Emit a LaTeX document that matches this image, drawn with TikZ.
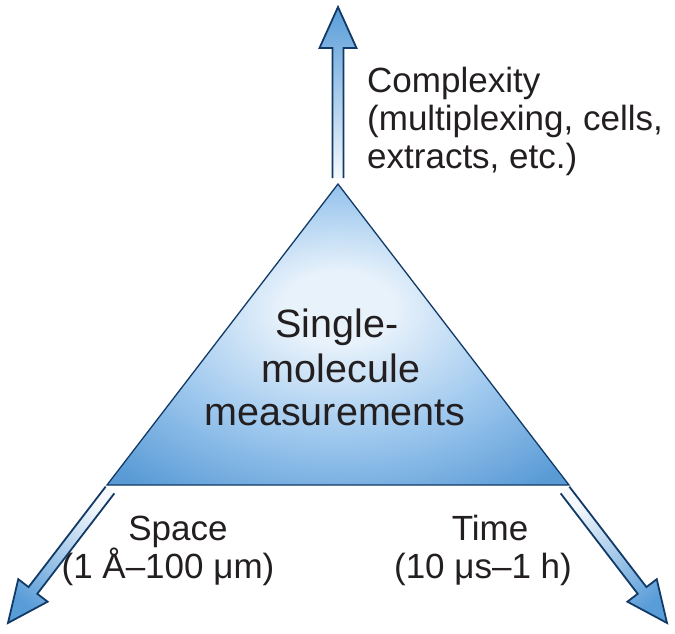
\documentclass[tikz,border=0pt]{standalone}
\usepackage{fontspec}
\setmainfont{Liberation Sans}
\usetikzlibrary{calc}
\definecolor{navy}{RGB}{18,58,102}
\definecolor{txt}{RGB}{35,31,32}
\definecolor{tlight}{RGB}{232,242,251}
\definecolor{tmid}{RGB}{158,200,238}
\definecolor{tout}{RGB}{90,155,214}
\definecolor{ablue}{RGB}{88,156,216}
\definecolor{awhite}{RGB}{245,249,253}
\pgfdeclareradialshading{trishade}{\pgfpoint{0bp}{5bp}}{color(0bp)=(tlight); color(6bp)=(tlight); color(20bp)=(tmid); color(34bp)=(tout); color(50bp)=(tout)}
\tikzset{
  outl/.style={draw=navy, line width=1.8pt, line join=miter},
  lbl/.style={font=\fontsize{35}{38}\selectfont, text=txt, inner sep=0pt, anchor=base},
  ctr/.style={font=\fontsize{39.5}{44}\selectfont, text=txt, inner sep=0pt, anchor=base},
}
% fat arrow: #1 = length, drawn along local +x from origin
\newcommand{\fatarrow}[1]{%
  (0,5.5) -- ({#1-41},5.5) -- ({#1-41},18.5) -- (#1,0) -- ({#1-41},-18.5) -- ({#1-41},-5.5) -- (0,-5.5)}
\begin{document}
\begin{tikzpicture}[x=1pt,y=-1pt]
\useasboundingbox (0,0) rectangle (675,633);
\fill[white] (0,0) rectangle (675,633);
% corners of triangle
\coordinate (apex) at (338,184);
\coordinate (bl) at (107,485);
\coordinate (br) at (569,485);
\draw[draw=navy, line width=1.3pt, line join=miter, shading=trishade] (apex) -- (br) -- (bl) -- cycle;
% arrow starts
\coordinate (upS) at (338,178);
\coordinate (rS) at (565,490);
\coordinate (lS) at (110,490);
\begin{scope}[shift={(upS)}, rotate=90]
  \draw[outl, left color=awhite, right color=ablue, shading angle=180] \fatarrow{171};
\end{scope}
\begin{scope}[shift={(rS)}, rotate=-52.5]
  \draw[outl, left color=awhite, right color=ablue, shading angle=37.5] \fatarrow{167.6};
\end{scope}
\begin{scope}[shift={(lS)}, rotate=-127.5]
  \draw[outl, left color=awhite, right color=ablue, shading angle=-37.5] \fatarrow{167.6};
\end{scope}
% texts
\node[lbl, anchor=base west] (c1) at (367,92) {Complexity};
\node[lbl, anchor=base west] (c2) at (367,130) {(multiplexing, cells,};
\node[lbl, anchor=base west] (c3) at (367,168) {extracts, etc.)};
\node[ctr] (m1) at (337,337) {Single-};
\node[ctr] (m2) at (341,382) {molecule};
\node[ctr] (m3) at (335,425) {measurements};
\node[lbl] (s1) at (178,540) {Space};
\node[lbl] (s2) at (168,578) {(1 Å–100 μm)};
\node[lbl] (t1) at (490,540) {Time};
\node[lbl] (t2) at (483,578) {(10 μs–1 h)};
\end{tikzpicture}
\end{document}
